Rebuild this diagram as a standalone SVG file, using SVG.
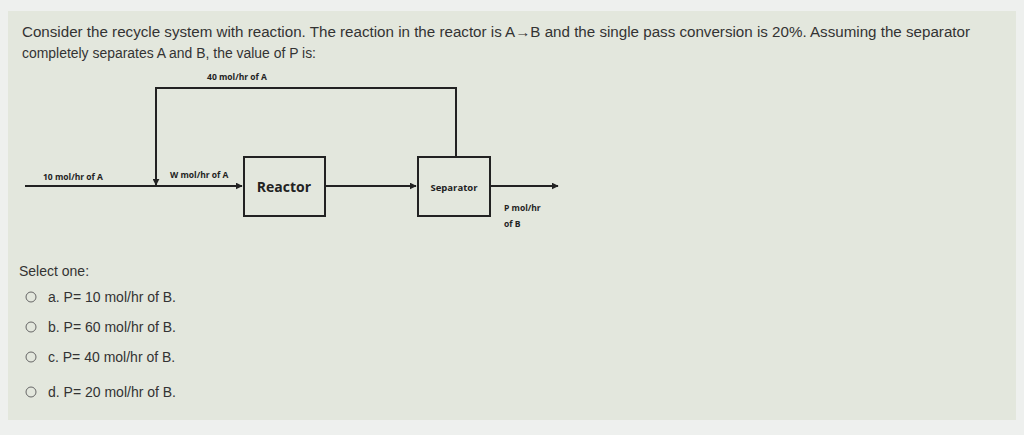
<svg xmlns="http://www.w3.org/2000/svg" width="1024" height="435" viewBox="0 0 1024 435">
<defs>
<marker id="ah" viewBox="0 0 10 10" refX="9" refY="5" markerWidth="7" markerHeight="7" orient="auto" markerUnits="userSpaceOnUse"><path d="M0,0 L10,5 L0,10 z" fill="#222"/></marker>
<style>
.q{font-family:"Liberation Sans",Arial,sans-serif;font-size:14px;fill:#333}
.d{font-family:"Open Sans","DejaVu Sans",sans-serif;font-weight:bold;fill:#222}
.ln{stroke:#222;stroke-width:2;fill:none}
.box{stroke:#222;stroke-width:2;fill:none}
.opt{fill:none;stroke:#666;stroke-width:1}
</style>
</defs>
<rect width="1024" height="435" fill="#eef0ee"/>
<rect x="8" y="11" width="1008" height="409" fill="#e3e7dd"/>
<text class="q" x="22" y="37" textLength="948" lengthAdjust="spacingAndGlyphs">Consider the recycle system with reaction. The reaction in the reactor is A→B and the single pass conversion is 20%. Assuming the separator</text>
<text class="q" x="22" y="58" textLength="294" lengthAdjust="spacingAndGlyphs">completely separates A and B, the value of P is:</text>
<g id="connectors">
<path class="ln" d="M25,186 H242" marker-end="url(#ah)"/>
<path class="ln" d="M456,157 V88 H156 V185" marker-end="url(#ah)"/>
<path class="ln" d="M325,186 H416" marker-end="url(#ah)"/>
<path class="ln" d="M490,186 H558" marker-end="url(#ah)"/>
</g>
<g id="reactor"><rect class="box" x="244" y="157" width="81" height="59"/><text class="d" x="284" y="192" font-size="14" text-anchor="middle">Reactor</text></g>
<g id="separator"><rect class="box" x="418" y="157" width="72" height="59"/><text class="d" x="454" y="191" font-size="9.5" text-anchor="middle">Separator</text></g>
<g id="labels">
<text class="d" x="237" y="80" font-size="8.5" text-anchor="middle">40 mol/hr of A</text>
<text class="d" x="43" y="180" font-size="8.5">10 mol/hr of A</text>
<text class="d" x="170" y="178" font-size="8.5">W mol/hr of A</text>
<text class="d" x="504" y="211" font-size="8.5">P mol/hr</text>
<text class="d" x="504" y="227" font-size="8.5">of B</text>
</g>
<text class="q" x="19" y="276">Select one:</text>
<g id="options">
<circle class="opt" cx="31" cy="297" r="5"/><text class="q" x="48" y="302">a. P= 10 mol/hr of B.</text>
<circle class="opt" cx="31" cy="327" r="5"/><text class="q" x="48" y="332">b. P= 60 mol/hr of B.</text>
<circle class="opt" cx="31" cy="357" r="5"/><text class="q" x="48" y="362">c. P= 40 mol/hr of B.</text>
<circle class="opt" cx="31" cy="392" r="5"/><text class="q" x="48" y="397">d. P= 20 mol/hr of B.</text>
</g>
</svg>
